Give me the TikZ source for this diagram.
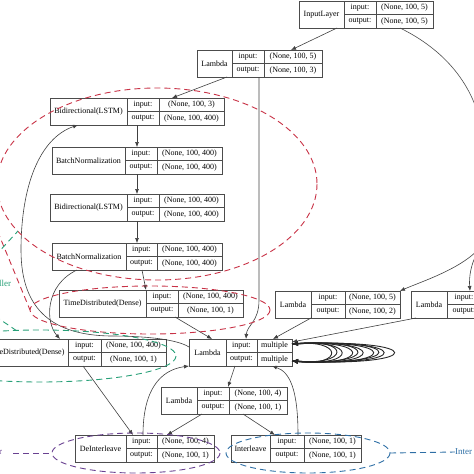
\documentclass[tikz,border=0pt]{standalone}
\usepackage{fontspec}
\setmainfont{Liberation Serif}
\usetikzlibrary{arrows.meta}
\definecolor{EncRed}{RGB}{200,50,70}
\definecolor{CtrlGreen}{RGB}{40,160,120}
\definecolor{DeintPurple}{RGB}{105,65,145}
\definecolor{IntBlue}{RGB}{45,110,165}

\tikzset{
  recbox/.style={draw=black!70, line width=0.6pt, inner sep=0pt, outer sep=0pt, minimum height=27pt},
  recline/.style={draw=black!70, line width=0.6pt},
  lab/.style={inner sep=0pt, font=\fontsize{8}{9}\selectfont},
  arr/.style={-{Latex[length=5pt,width=4pt]}, draw=black!75, line width=0.6pt},
  loopedge/.style={-{Latex[length=6pt,width=5pt]}, draw=black!85, line width=0.9pt},
  ovl/.style={line width=0.9pt, dash pattern=on 6pt off 4pt},
}

% one keras record: name, x0, x1, x2, x3, top, label, input shape, output shape
\newcommand{\layerbox}[9]{%
  \pgfmathsetmacro\recw{#5-#2}
  \node[recbox, minimum width=\recw pt] (#1) at ({(#2+#5)/2},{#6+13.5}) {};
  \draw[recline] (#3,#6) -- (#3,{#6+27}) (#4,#6) -- (#4,{#6+27}) (#3,{#6+13.5}) -- (#5,{#6+13.5});
  \node[lab] (#1-l) at ({(#2+#3)/2},{#6+13.5}) {#7};
  \node[lab] (#1-i) at ({(#3+#4)/2},{#6+6.75}) {input:};
  \node[lab] (#1-o) at ({(#3+#4)/2},{#6+20.25}) {output:};
  \node[lab] (#1-vi) at ({(#4+#5)/2},{#6+6.75}) {#8};
  \node[lab] (#1-vo) at ({(#4+#5)/2},{#6+20.25}) {#9};
}

\begin{document}
\begin{tikzpicture}[x=1pt, y=-1pt]
\useasboundingbox (0,0) rectangle (474,474);

\layerbox{inp}{299}{344}{376}{433}{1}{InputLayer}{(None, 100, 5)}{(None, 100, 5)}
\layerbox{lamA}{197}{232}{264}{322}{50}{Lambda}{(None, 100, 5)}{(None, 100, 3)}
\layerbox{lstmA}{50}{127}{159}{224}{98}{Bidirectional(LSTM)}{(None, 100, 3)}{(None, 100, 400)}
\layerbox{bnA}{52}{125}{157}{222}{147}{BatchNormalization}{(None, 100, 400)}{(None, 100, 400)}
\layerbox{lstmB}{50}{127}{159}{224}{194}{Bidirectional(LSTM)}{(None, 100, 400)}{(None, 100, 400)}
\layerbox{bnB}{52}{126}{157}{222}{243}{BatchNormalization}{(None, 100, 400)}{(None, 100, 400)}
\layerbox{tdA}{59}{146}{178}{243}{290}{TimeDistributed(Dense)}{(None, 100, 400)}{(None, 100, 1)}
\layerbox{lamB}{275}{311}{345}{400}{291}{Lambda}{(None, 100, 5)}{(None, 100, 2)}
\layerbox{lamC}{411}{447}{481}{540}{291}{Lambda}{}{}
\layerbox{tdB}{-4}{68}{101}{166}{339}{eDistributed(Dense)}{(None, 100, 400)}{(None, 100, 1)}
\layerbox{lamD}{189}{226}{257}{292}{339}{Lambda}{multiple}{multiple}
\layerbox{lamE}{161}{197}{229}{287}{387}{Lambda}{(None, 100, 4)}{(None, 100, 1)}
\layerbox{deint}{75}{126}{157}{214}{435}{DeInterleave}{(None, 100, 4)}{(None, 100, 1)}
\layerbox{inter}{231}{270}{304}{361}{435}{Interleave}{(None, 100, 1)}{(None, 100, 1)}

% edges
\draw[arr] ([xshift=38pt]inp.south west) -- ([xshift=94pt]lamA.north west);
\draw[arr] ([xshift=30pt]lamA.south west) -- ([xshift=122pt]lstmA.north west);
\draw[arr] ([xshift=62pt]lamA.south west) -- (259,300) .. controls (259,322) and (247,325) .. ([xshift=57pt]lamD.north west);
\draw[arr] ([xshift=87pt]lstmA.south west) -- ([xshift=85pt]bnA.north west);
\draw[arr] ([xshift=85pt]bnA.south west) -- ([xshift=87pt]lstmB.north west);
\draw[arr] ([xshift=87pt]lstmB.south west) -- ([xshift=85pt]bnB.north west);
\draw[arr] ([xshift=90pt]bnB.south west) -- ([xshift=87pt]tdA.north west);
\draw[arr] ([xshift=25pt]bnB.south west) .. controls (45,285) and (45,322) .. ([xshift=64pt]tdB.north west);
\draw[arr] ([yshift=-8pt]lamD.north west) .. controls (178,340) and (150,336) .. (110,336)
  .. controls (55,335) and (21,312) .. (21,250) .. controls (21,185) and (40,138) .. ([xshift=28pt]lstmA.south west);
\draw[arr] ([xshift=116pt]tdA.south west) -- ([xshift=23pt]lamD.north west);
\draw[arr] ([xshift=36pt]lamB.south west) -- ([xshift=84pt]lamD.north west);
\draw[arr] ([xshift=5pt]lamC.south west) -- ([yshift=-3pt]lamD.north east);
\draw[arr] ([xshift=46pt]lamD.south west) -- ([xshift=67pt]lamE.north west);
\draw[arr] ([xshift=41pt]lamE.south west) -- ([xshift=92pt]deint.north west);
\draw[arr] ([xshift=82pt]lamE.south west) -- ([xshift=44pt]inter.north west);
\draw[arr] ([xshift=87pt]tdB.south west) -- ([xshift=58pt]deint.north west);
\draw[arr] ([xshift=68pt]deint.north west) .. controls (143,390) and (160,370) .. (lamD.south west);
\draw[arr] ([xshift=67pt]inter.north west) .. controls (298,390) and (290,372) .. ([xshift=83pt]lamD.south west);

% input fed round the right edge
\coordinate (rimA) at (482,130);
\coordinate (rimB) at (482,245);
\draw[recline] ([xshift=101pt]inp.south west) .. controls (445,50) and (474,85) .. (rimA);
\draw[arr] (rimB) .. controls (465,268) and (420,282) .. (lamB.north east);
\draw[arr] (rimB) .. controls (470,262) and (469,278) .. ([xshift=59pt]lamC.north west);

% repeated calls of the shared lambda
\foreach \c in {52,66,...,140}
  \draw[loopedge] ([yshift=-5pt]lamD.north east) .. controls +(\c,-6) and +(\c,6) .. ([yshift=5pt]lamD.south east);
\foreach \c in {59,87,115}
  \draw[loopedge] ([yshift=5pt]lamD.south east) .. controls +(\c,6) and +(\c,-6) .. ([yshift=-5pt]lamD.north east);

% highlighted blocks
\draw[EncRed, ovl] (157,184) ellipse (160 and 96);
\draw[EncRed, ovl] (150,310) ellipse (120 and 24);
\draw[EncRed, ovl] (-10,213) -- (30,310);
\draw[CtrlGreen, ovl] (40,356) ellipse (136 and 26);
\draw[CtrlGreen, ovl] (-5,316) -- (17,331);
\draw[CtrlGreen, ovl] (-5,256) -- (18,231);
\node[lab, CtrlGreen, anchor=west, font=\fontsize{9}{10}\selectfont] (ctrl) at (-1,283) {ller};
\draw[DeintPurple, ovl] (136,453) ellipse (84 and 20);
\node[lab, DeintPurple, anchor=west, font=\fontsize{9}{10}\selectfont] (deintlab) at (-1,452) {r};
\draw[DeintPurple, ovl] (13,453) -- (52,453);
\draw[IntBlue, ovl] (308,453) ellipse (82 and 20);
\node[lab, IntBlue, anchor=west, font=\fontsize{9}{10}\selectfont] (intlab) at (455,452) {Inter};
\draw[IntBlue, ovl] (390,453) -- (intlab.west);
\end{tikzpicture}
\end{document}
